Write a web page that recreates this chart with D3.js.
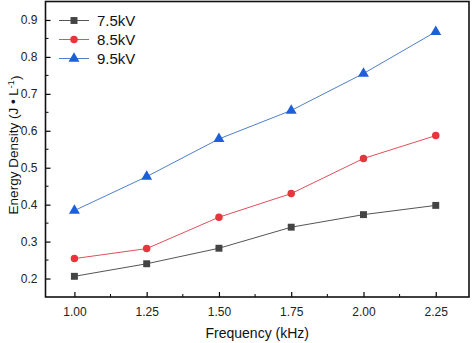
<!DOCTYPE html>
<html>
<head>
<meta charset="utf-8">
<script src="https://cdn.jsdelivr.net/npm/d3@7"></script>
<style>
  body { margin: 0; background: #fff; }
  svg { display: block; font-family: Arial, "Liberation Sans", sans-serif; }
</style>
</head>
<body>
<div id="chart"></div>
<script>
// Energy density vs frequency, three voltage levels.

const frequencies = [1.00, 1.25, 1.50, 1.75, 2.00, 2.25];
const xTicks = [1.00, 1.25, 1.50, 1.75, 2.00, 2.25];
const yTicks = [0.2, 0.3, 0.4, 0.5, 0.6, 0.7, 0.8, 0.9];

const seriesNames = ['7.5kV', '8.5kV', '9.5kV'];
const values75 = [0.206, 0.240, 0.282, 0.339, 0.373, 0.398];
const values85 = [0.254, 0.281, 0.366, 0.430, 0.525, 0.587];
const values95 = [0.384, 0.476, 0.578, 0.655, 0.755, 0.868];

const d3 = window.d3;
const width = 474;
const height = 343;
const margin = { top: 1.5, right: 5, bottom: 46, left: 45.5 };
const innerWidth = width - margin.left - margin.right;
const innerHeight = height - margin.top - margin.bottom;

const series = [
  { name: seriesNames[0], values: values75, line: '#555555', fill: '#444444', shape: d3.symbolSquare, size: 48 },
  { name: seriesNames[1], values: values85, line: '#e0505a', fill: '#e8343c', shape: d3.symbolCircle, size: 44 },
  { name: seriesNames[2], values: values95, line: '#4f80c8', fill: '#1c5fd8', shape: d3.symbolTriangle, size: 52 }
];

const svg = d3.select('#chart')
  .append('svg')
  .attr('width', width)
  .attr('height', height);

const g = svg.append('g')
  .attr('transform', `translate(${margin.left},${margin.top})`);

const x = d3.scaleLinear()
  .domain([0.9, 2.365])
  .range([0, innerWidth]);

const y = d3.scaleLinear()
  .domain([0.15, 0.95])
  .range([innerHeight, 0]);

// minor ticks halfway between the major ones
const xMinor = xTicks.slice(0, -1).map(v => v + 0.125);
const yMinor = yTicks.map(v => v + 0.05).filter(v => v < 0.95);

g.append('g')
  .selectAll('line')
  .data(xMinor)
  .enter().append('line')
  .attr('x1', d => x(d)).attr('x2', d => x(d))
  .attr('y1', innerHeight).attr('y2', innerHeight - 3)
  .attr('stroke', '#000').attr('stroke-width', 1);

g.append('g')
  .selectAll('line')
  .data(yMinor)
  .enter().append('line')
  .attr('x1', 0).attr('x2', 3)
  .attr('y1', d => y(d)).attr('y2', d => y(d))
  .attr('stroke', '#000').attr('stroke-width', 1);

const xAxis = g.append('g')
  .attr('transform', `translate(0,${innerHeight})`)
  .call(d3.axisBottom(x).tickValues(xTicks).tickFormat(d3.format('.2f')).tickSizeInner(-5).tickSizeOuter(0).tickPadding(10));

const yAxis = g.append('g')
  .call(d3.axisLeft(y).tickValues(yTicks).tickFormat(d3.format('.1f')).tickSizeInner(-5).tickSizeOuter(0).tickPadding(8));

[xAxis, yAxis].forEach(a => {
  a.select('.domain').remove();
  a.selectAll('line').attr('stroke', '#000').attr('stroke-width', 1.2);
  a.selectAll('text')
    .attr('fill', '#222')
    .style('font-size', '12px');
});

// frame
g.append('rect')
  .attr('x', 0).attr('y', 0)
  .attr('width', innerWidth).attr('height', innerHeight)
  .attr('fill', 'none')
  .attr('stroke', '#111')
  .attr('stroke-width', 1.6);

const line = d3.line()
  .x((d, i) => x(frequencies[i]))
  .y(d => y(d));

series.forEach(s => {
  g.append('path')
    .datum(s.values)
    .attr('d', line)
    .attr('fill', 'none')
    .attr('stroke', s.line)
    .attr('stroke-width', 1);

  g.selectAll(null)
    .data(s.values)
    .enter().append('path')
    .attr('d', d3.symbol().type(s.shape).size(s.size))
    .attr('transform', (d, i) => `translate(${x(frequencies[i])},${y(d)})`)
    .attr('fill', s.fill);
});

// legend
const legend = svg.append('g');
series.forEach((s, i) => {
  const ly = 20.5 + i * 19;
  legend.append('line')
    .attr('x1', 59).attr('x2', 89)
    .attr('y1', ly).attr('y2', ly)
    .attr('stroke', s.line).attr('stroke-width', 1);
  legend.append('path')
    .attr('d', d3.symbol().type(s.shape).size(s.size))
    .attr('transform', `translate(74,${ly})`)
    .attr('fill', s.fill);
  legend.append('text')
    .attr('x', 97).attr('y', ly)
    .attr('dy', '0.36em')
    .attr('fill', '#111')
    .style('font-size', '15px')
    .text(s.name);
});

// axis titles
svg.append('text')
  .attr('x', margin.left + innerWidth / 2)
  .attr('y', 333)
  .attr('dy', '0.36em')
  .attr('text-anchor', 'middle')
  .attr('fill', '#111')
  .style('font-size', '14px')
  .text('Frequency (kHz)');

const yTitle = svg.append('text')
  .attr('transform', 'translate(13,145) rotate(-90)')
  .attr('dy', '0.36em')
  .attr('text-anchor', 'middle')
  .attr('fill', '#111')
  .style('font-size', '13.5px');
yTitle.append('tspan').text('Energy Density (J • L');
yTitle.append('tspan').attr('dy', '-0.45em').style('font-size', '9px').text('-1');
yTitle.append('tspan').attr('dy', '0.45em').text(')');
</script>
</body>
</html>
